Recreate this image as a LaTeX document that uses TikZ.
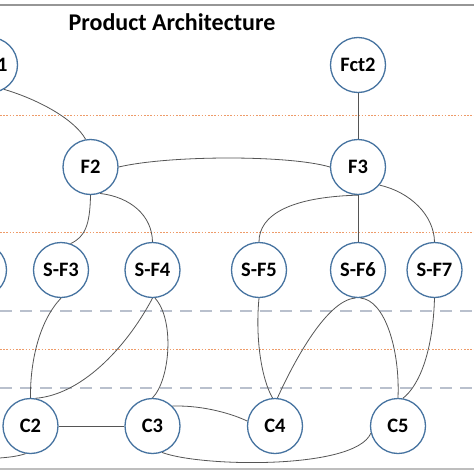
\documentclass[tikz,border=0pt]{standalone}
\usepackage{fontspec}
\setmainfont{Carlito}
\definecolor{nodeblue}{RGB}{70,115,160}
\definecolor{edgegray}{RGB}{85,85,85}
\definecolor{dotorange}{RGB}{238,155,105}
\definecolor{dashgray}{RGB}{185,192,205}
\definecolor{framegray}{RGB}{150,150,150}
\definecolor{framelight}{RGB}{190,190,190}
\tikzset{
  circ/.style={circle, draw=nodeblue, line width=1.3pt, fill=white, minimum size=55pt, inner sep=0pt, font=\bfseries\fontsize{20.5}{24}\selectfont},
  conn/.style={draw=edgegray, line width=0.8pt},
  orangeline/.style={draw=dotorange, line width=1pt, dash pattern=on 1.6pt off 1.6pt},
  grayline/.style={draw=dashgray, line width=2.4pt, dash pattern=on 12pt off 8pt},
  titletext/.style={font=\bfseries\fontsize{24}{28}\selectfont}
}
\begin{document}
\begin{tikzpicture}[x=1pt,y=-1pt]
\useasboundingbox (0,0) rectangle (474,474);
\clip (0,0) rectangle (474,474);
\fill[white] (0,0) rectangle (474,474);
% frame lines
\coordinate (ftl) at (0,5); \coordinate (ftr) at (474,5);
\coordinate (fbl) at (0,469); \coordinate (fbr) at (474,469);
\draw[framegray, line width=1.8pt] (ftl) -- (ftr);
\draw[framelight, line width=1.4pt] (fbl) -- (fbr);
% level separators
\coordinate (o1l) at (0,115); \coordinate (o1r) at (474,115);
\coordinate (o2l) at (0,232); \coordinate (o2r) at (474,232);
\coordinate (o3l) at (0,349); \coordinate (o3r) at (474,349);
\coordinate (g1l) at (0,311); \coordinate (g1r) at (474,311);
\coordinate (g2l) at (0,388); \coordinate (g2r) at (474,388);
\draw[orangeline] (o1l) -- (o1r);
\draw[orangeline] (o2l) -- (o2r);
\draw[orangeline] (o3l) -- (o3r);
\draw[grayline] (g1l) -- (g1r);
\draw[grayline] (g2l) -- (g2r);
% title
\node[titletext] (title) at (172,22) {Product Architecture};
% nodes
\node[circ] (fct1) at (-10,65) {Fct1};
\node[circ] (fct2) at (358,65) {Fct2};
\node[circ] (f2) at (90.5,167) {F2};
\node[circ] (f3) at (358,167) {F3};
\node[circ] (sf2) at (-21,270) {};
\node[circ] (sf3) at (61,270) {S-F3};
\node[circ] (sf4) at (152.5,270) {S-F4};
\node[circ] (sf5) at (259,270) {S-F5};
\node[circ] (sf6) at (358,270) {S-F6};
\node[circ] (sf7) at (434.5,270) {S-F7};
\node[circ] (c2) at (30.5,426) {C2};
\node[circ] (c3) at (152.5,426) {C3};
\node[circ] (c4) at (275,426) {C4};
\node[circ] (c5) at (398,426) {C5};
\coordinate (c1end) at (-20,459);
% connectors
\draw[conn] (fct1.-60) .. controls (40,100) and (75,120) .. (f2.100);
\draw[conn] (fct2) -- (f3);
\draw[conn] (f2.east) .. controls (170,155) and (290,155) .. (f3.west);
\draw[conn] (f2.south) .. controls (90,225) and (85,237) .. (sf3.70);
\draw[conn] (f2.-70) .. controls (130,197) and (152,215) .. (sf4.north);
\draw[conn] (f3.south) .. controls (290,197) and (259,215) .. (sf5.north);
\draw[conn] (f3) -- (sf6);
\draw[conn] (f3.-40) .. controls (410,192) and (434,215) .. (sf7.north);
\draw[conn] (sf3.south) .. controls (40,320) and (30,360) .. (c2.north);
\draw[conn] (sf4.south) .. controls (125,350) and (80,395) .. (c2.80);
\draw[conn] (sf4.-85) .. controls (175,320) and (170,380) .. (c3.north);
\draw[conn] (c2) -- (c3);
\draw[conn] (c2.-100) .. controls (15,457) and (5,458) .. (c1end);
\draw[conn] (c3.45) .. controls (205,405) and (235,415) .. (c4.170);
\draw[conn] (c3.-70) .. controls (200,467) and (355,470) .. (c5.-165);
\draw[conn] (sf5.south) .. controls (255,340) and (262,380) .. (c4.95);
\draw[conn] (sf6.-95) .. controls (325,300) and (290,370) .. (c4.85);
\draw[conn] (sf6.-85) .. controls (385,300) and (400,350) .. (c5.north);
\draw[conn] (sf7.south) .. controls (433,350) and (420,385) .. (c5.80);
\end{tikzpicture}
\end{document}
